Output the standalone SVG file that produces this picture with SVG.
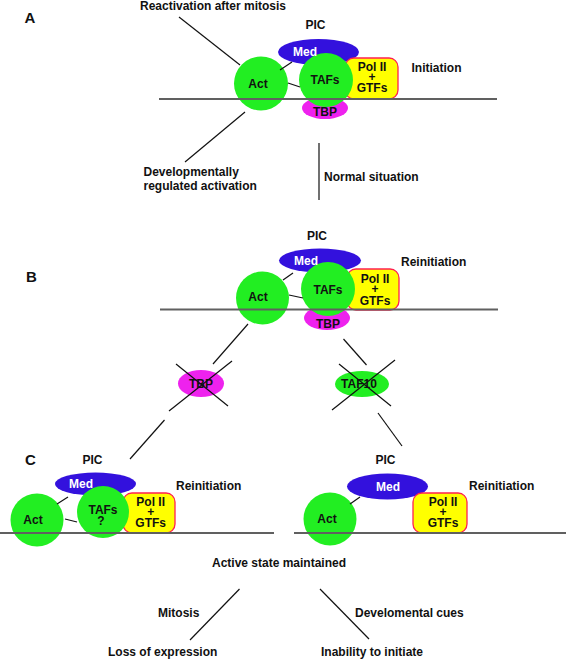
<svg xmlns="http://www.w3.org/2000/svg" width="567" height="660" viewBox="0 0 567 660">
<style>
text{font-family:"Liberation Sans",Arial,sans-serif;font-weight:bold;font-size:12px;fill:#111}
.c{text-anchor:middle}
.big{font-size:15px}
.w{fill:#fff}
.act{fill:#22ee22}
.med{fill:#3311dd}
.tbp{fill:#ee22ee}
.pol{fill:#ffff00;stroke:#ff2050;stroke-width:1.3}
.dna{stroke:#606060;stroke-width:1.8}
.ln{stroke:#111;stroke-width:1.2;fill:none}
</style>
<rect width="567" height="660" fill="#fff"/>

<!-- Panel A -->
<g id="panelA">
<text x="24.5" y="23" class="big">A</text>
<text x="315.5" y="29" class="c">PIC</text>
<text x="411.5" y="72">Initiation</text>
<g id="A-med"><ellipse cx="318.5" cy="52" rx="40.5" ry="13" class="med"/></g>
<g id="A-pol"><rect x="345" y="58" width="53" height="41" rx="9" class="pol"/></g>
<g id="A-tbp"><ellipse cx="325" cy="108" rx="23" ry="11" class="tbp"/></g>
<g id="A-act"><circle cx="261" cy="83.5" r="27" class="act"/></g>
<g id="A-tafs"><circle cx="326" cy="80" r="27" class="act"/></g>
<line x1="159" y1="99" x2="497" y2="99" class="dna"/>
<text x="305" y="56.3" class="c w">Med</text>
<text x="372" y="71.3" class="c">Pol II</text>
<text x="372" y="81.3" class="c">+</text>
<text x="372" y="92.3" class="c">GTFs</text>
<text x="325" y="116" class="c">TBP</text>
<text x="258" y="88" class="c">Act</text>
<text x="325" y="84" class="c">TAFs</text>
</g>

<!-- Panel B -->
<g id="panelB">
<text x="26" y="282" class="big">B</text>
<text x="317" y="240" class="c">PIC</text>
<text x="401" y="266">Reinitiation</text>
<g id="B-med"><ellipse cx="320" cy="260.5" rx="41" ry="12" class="med"/></g>
<g id="B-pol"><rect x="347" y="269" width="52" height="41" rx="9" class="pol"/></g>
<g id="B-tbp"><ellipse cx="327" cy="318" rx="23" ry="12" class="tbp"/></g>
<g id="B-act"><circle cx="262.5" cy="298" r="26.5" class="act"/></g>
<g id="B-tafs"><circle cx="328" cy="289" r="27" class="act"/></g>
<line x1="160" y1="309.5" x2="498" y2="309.5" class="dna"/>
<text x="306" y="264.5" class="c w">Med</text>
<text x="375" y="282.5" class="c">Pol II</text>
<text x="375" y="293" class="c">+</text>
<text x="375" y="304.5" class="c">GTFs</text>
<text x="328" y="327.5" class="c">TBP</text>
<text x="258" y="300.5" class="c">Act</text>
<text x="328" y="293.5" class="c">TAFs</text>
</g>

<!-- Deleted factors -->
<g id="tbp-deleted">
<ellipse cx="201" cy="383.5" rx="23" ry="13.5" class="tbp"/>
<text x="201" y="387.8" class="c">TBP</text>
<line x1="176" y1="364" x2="228" y2="406" class="ln"/>
<line x1="232" y1="361" x2="169" y2="411" class="ln"/>
</g>
<g id="taf10-deleted">
<ellipse cx="362" cy="384" rx="27" ry="13" class="act"/>
<text x="359" y="388" class="c">TAF10</text>
<line x1="339" y1="364" x2="391" y2="406" class="ln"/>
<line x1="395" y1="360" x2="332" y2="410" class="ln"/>
</g>

<!-- Panel C left -->
<g id="panelC-left">
<text x="25" y="465" class="big">C</text>
<text x="92.5" y="464" class="c">PIC</text>
<text x="176" y="490">Reinitiation</text>
<g id="CL-med"><ellipse cx="95.5" cy="484" rx="40.5" ry="11.5" class="med"/></g>
<g id="CL-pol"><rect x="123" y="493" width="52" height="40" rx="9" class="pol"/></g>
<g id="CL-act"><circle cx="37" cy="520" r="26.5" class="act"/></g>
<g id="CL-tafs"><circle cx="103" cy="512" r="26" class="act"/></g>
<line x1="0" y1="533" x2="274" y2="533" class="dna"/>
<text x="81" y="488" class="c w">Med</text>
<text x="150.7" y="506" class="c">Pol II</text>
<text x="150.7" y="516.3" class="c">+</text>
<text x="150.7" y="527.3" class="c">GTFs</text>
<text x="33" y="523.5" class="c">Act</text>
<text x="103" y="514.3" class="c">TAFs</text>
<text x="101" y="525.3" class="c">?</text>
</g>

<!-- Panel C right -->
<g id="panelC-right">
<text x="385.5" y="464" class="c">PIC</text>
<text x="469" y="490">Reinitiation</text>
<g id="CR-med"><ellipse cx="387.5" cy="486.5" rx="40.5" ry="13" class="med"/></g>
<g id="CR-pol"><rect x="413" y="493" width="54" height="40" rx="9" class="pol"/></g>
<g id="CR-act"><circle cx="330" cy="519" r="26.5" class="act"/></g>
<line x1="294" y1="533" x2="566" y2="533" class="dna"/>
<text x="388" y="491" class="c w">Med</text>
<text x="443" y="505.5" class="c">Pol II</text>
<text x="443" y="515.8" class="c">+</text>
<text x="443" y="527.3" class="c">GTFs</text>
<text x="327" y="523" class="c">Act</text>
</g>

<!-- Labels -->
<g id="labels">
<text x="140" y="10">Reactivation after mitosis</text>
<text x="143.5" y="176">Developmentally</text>
<text x="143.5" y="190">regulated activation</text>
<text x="324" y="181">Normal situation</text>
<text x="279" y="567" class="c">Active state maintained</text>
<text x="158" y="617">Mitosis</text>
<text x="355" y="617">Develomental cues</text>
<text x="108" y="656">Loss of expression</text>
<text x="321" y="656">Inability to initiate</text>
</g>

<!-- Connectors -->
<g id="connectors" class="ln">
<line x1="179" y1="17" x2="240" y2="65"/>
<line x1="245" y1="112" x2="185" y2="162"/>
<line x1="319" y1="143" x2="319" y2="200"/>
<line x1="280" y1="70" x2="292" y2="62"/>
<line x1="288" y1="83" x2="300" y2="87"/>
<line x1="283" y1="280" x2="293" y2="273"/>
<line x1="289" y1="295" x2="303" y2="298"/>
<line x1="248" y1="324" x2="213" y2="364"/>
<line x1="164.5" y1="420" x2="130" y2="459"/>
<line x1="343.5" y1="339" x2="366.5" y2="365"/>
<line x1="378" y1="413" x2="402" y2="446"/>
<line x1="57" y1="504" x2="68" y2="497"/>
<line x1="65" y1="519" x2="77" y2="522"/>
<line x1="350" y1="504" x2="360" y2="497"/>
<line x1="239.5" y1="589" x2="190" y2="640"/>
<line x1="320" y1="589" x2="369" y2="639"/>
</g>
</svg>
